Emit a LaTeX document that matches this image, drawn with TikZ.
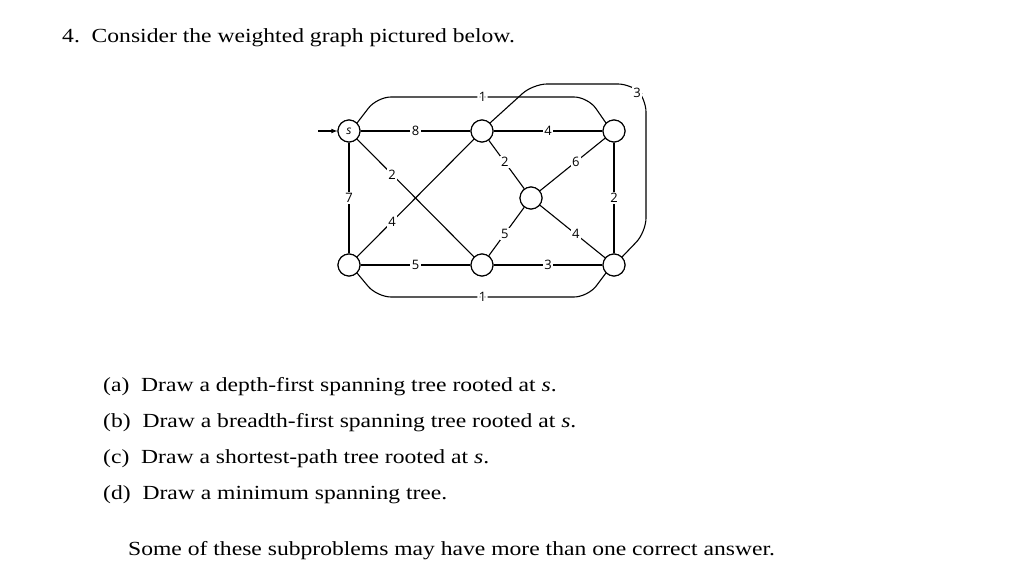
\documentclass[tikz,border=0pt]{standalone}
\usepackage{fontspec}
\setmainfont[FakeStretch=1.18]{Liberation Serif}
\newfontfamily\lblfont{Open Sans}
\begin{document}
\begin{tikzpicture}[x=1pt,y=-1pt,
  vtx/.style={circle,draw,line width=1.1pt,fill=white,minimum size=22pt,inner sep=0pt},
  edge/.style={line width=1.1pt},
  wt/.style={fill=white,inner sep=1.5pt,font=\lblfont\fontsize{13}{13}\selectfont},
  txt/.style={anchor=base west,inner sep=0pt,font=\fontsize{20}{24}\selectfont}]
\useasboundingbox (0,0) rectangle (1024,588);
\coordinate (in) at (318,131);
\node[vtx] (s) at (349,131) {};
\node[vtx] (a) at (482,131) {};
\node[vtx] (b) at (614,131) {};
\node[vtx] (c) at (531,198) {};
\node[vtx] (d) at (349,265) {};
\node[vtx] (e) at (482,265) {};
\node[vtx] (f) at (614,265) {};
\draw[edge,-latex] (in) -- (s);
\draw[edge] (s) -- node[wt]{8} (a);
\draw[edge] (a) -- node[wt]{4} (b);
\draw[edge] (d) -- node[wt]{5} (e);
\draw[edge] (e) -- node[wt]{3} (f);
\draw[edge] (s) -- node[wt]{7} (d);
\draw[edge] (b) -- node[wt]{2} (f);
\draw[edge] (s) -- node[wt,pos=0.3]{2} (e);
\draw[edge] (d) -- node[wt,pos=0.3]{4} (a);
\draw[edge] (a) -- node[wt,pos=0.45]{2} (c);
\draw[edge] (c) -- node[wt,pos=0.55]{6} (b);
\draw[edge] (e) -- node[wt,pos=0.45]{5} (c);
\draw[edge] (c) -- node[wt,pos=0.55]{4} (f);
\draw[edge,rounded corners=14] (s.45) -- (377,97) -- node[wt]{1} (588,97) -- (b.135);
\draw[edge,rounded corners=14] (d.-45) -- (377,297) -- node[wt]{1} (588,297) -- (f.-135);
\draw[edge,rounded corners=14] (a.45) -- (533,84) -- (632,84) -- (646,98) -- (646,232) -- (f.45);
\node[wt] (w3) at (637,93) {3};
\node[vtx] at (s) {\lblfont\itshape\fontsize{12}{12}\selectfont s};
\foreach \n in {a,b,c,d,e,f} \node[vtx] at (\n) {};
\node[txt] (t0) at (62,43) {4.\ \ Consider the weighted graph pictured below.};
\node[txt] (ta) at (103,391) {(a)\ \ Draw a depth-first spanning tree rooted at \textit{s}.};
\node[txt] (tb) at (103,427) {(b)\ \ Draw a breadth-first spanning tree rooted at \textit{s}.};
\node[txt] (tc) at (103,463) {(c)\ \ Draw a shortest-path tree rooted at \textit{s}.};
\node[txt] (td) at (103,499) {(d)\ \ Draw a minimum spanning tree.};
\node[txt] (te) at (128,555) {Some of these subproblems may have more than one correct answer.};
\end{tikzpicture}
\end{document}
